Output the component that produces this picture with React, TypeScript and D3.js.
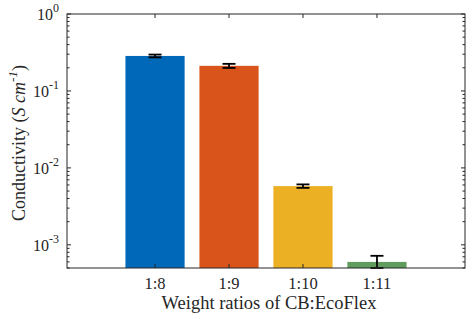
import React from "react";
import * as d3 from "d3";

// Conductivity per CB:EcoFlex weight ratio (S/cm), with error bar half-widths
const ratios: string[] = ["1:8", "1:9", "1:10", "1:11"];
const conductivity: number[] = [0.285, 0.212, 0.0058, 0.0006];
const errors: number[] = [0.012, 0.013, 0.0003, 0.00012];
const barColors: string[] = ["#0068b8", "#d9541a", "#ebb023", "#5f9c5e"];
const majorTicks: number[] = [1e-3, 1e-2, 1e-1, 1];
const majorExponents: string[] = ["-3", "-2", "-1", "0"];

const width = 474;
const height = 319;
const marginLeft = 67;
const marginRight = 9;
const marginTop = 14;
const marginBottom = 51;

const App: React.FC = () => {
    const x = d3.scaleLinear()
        .domain([-0.19, 5.19])
        .range([marginLeft, width - marginRight]);

    const y = d3.scaleLog()
        .domain([5e-4, 1])
        .range([height - marginBottom, marginTop]);

    const barWidth = x(0.8) - x(0);
    const bottom = height - marginBottom;
    const right = width - marginRight;

    // minor ticks 2..9 within each decade, plus 5..9 below 1e-3
    const minorTicks: number[] = [];
    [1e-4, 1e-3, 1e-2, 1e-1].forEach(dec => {
        for (let k = 2; k <= 9; k++) {
            const v = k * dec;
            if (v >= 5e-4 && v < 1) minorTicks.push(v);
        }
    });

    const font = "'Liberation Serif', 'Times New Roman', serif";

    return (
        <svg width={width} height={height} style={{ position: "absolute", left: 0, top: 0 }} fontFamily={font}>
            <rect width={width} height={height} fill="white" />
            {/* Bars */}
            {ratios.map((r, i) => (
                <rect
                    key={r}
                    x={x(i + 1) - barWidth / 2}
                    y={y(conductivity[i])}
                    width={barWidth}
                    height={bottom - y(conductivity[i])}
                    fill={barColors[i]}
                />
            ))}
            {/* Error bars */}
            {ratios.map((r, i) => {
                const cx = x(i + 1);
                const hi = y(conductivity[i] + errors[i]);
                const lo = Math.min(y(conductivity[i] - errors[i]), bottom);
                return (
                    <g key={`err-${r}`} stroke="black" strokeWidth={1.8}>
                        <line x1={cx} x2={cx} y1={hi} y2={lo} />
                        <line x1={cx - 6.5} x2={cx + 6.5} y1={hi} y2={hi} />
                        <line x1={cx - 6.5} x2={cx + 6.5} y1={lo} y2={lo} />
                    </g>
                );
            })}
            {/* Box */}
            <rect
                x={marginLeft}
                y={marginTop}
                width={right - marginLeft}
                height={bottom - marginTop}
                fill="none"
                stroke="#262626"
                strokeWidth={1}
            />
            {/* X ticks, bottom and top */}
            {ratios.map((r, i) => (
                <g key={`xt-${r}`} stroke="#262626">
                    <line x1={x(i + 1)} x2={x(i + 1)} y1={bottom} y2={bottom - 4} />
                    <line x1={x(i + 1)} x2={x(i + 1)} y1={marginTop} y2={marginTop + 4} />
                </g>
            ))}
            {/* Y major and minor ticks, left and right */}
            {majorTicks.map(t => (
                <g key={`ymaj-${t}`} stroke="#262626">
                    <line x1={marginLeft} x2={marginLeft + 4} y1={y(t)} y2={y(t)} />
                    <line x1={right} x2={right - 4} y1={y(t)} y2={y(t)} />
                </g>
            ))}
            {minorTicks.map(t => (
                <g key={`ymin-${t}`} stroke="#262626">
                    <line x1={marginLeft} x2={marginLeft + 2.5} y1={y(t)} y2={y(t)} />
                    <line x1={right} x2={right - 2.5} y1={y(t)} y2={y(t)} />
                </g>
            ))}
            {/* X tick labels */}
            {ratios.map((r, i) => (
                <text key={`xl-${r}`} x={x(i + 1)} y={289} textAnchor="middle" fontSize={16.5} fill="#262626">
                    {r}
                </text>
            ))}
            {/* Y tick labels */}
            {majorTicks.map((t, i) => (
                <text key={`yl-${t}`} x={59} y={y(t) + 6} textAnchor="end" fontSize={16} fill="#262626">
                    10
                    <tspan dy={-8} fontSize={12}>{majorExponents[i]}</tspan>
                </text>
            ))}
            {/* Axis titles */}
            <text x={269} y={309} textAnchor="middle" fontSize={18.5} fill="#262626">
                Weight ratios of CB:EcoFlex
            </text>
            <text
                transform={`translate(25, ${(marginTop + bottom) / 2 + 2}) rotate(-90)`}
                textAnchor="middle"
                fontSize={18}
                fill="#262626"
            >
                Conductivity (<tspan fontStyle="italic">S cm</tspan>
                <tspan dy={-8} fontSize={13} fontStyle="italic">-1</tspan>
                <tspan dy={8}>)</tspan>
            </text>
        </svg>
    );
};

export default App;
